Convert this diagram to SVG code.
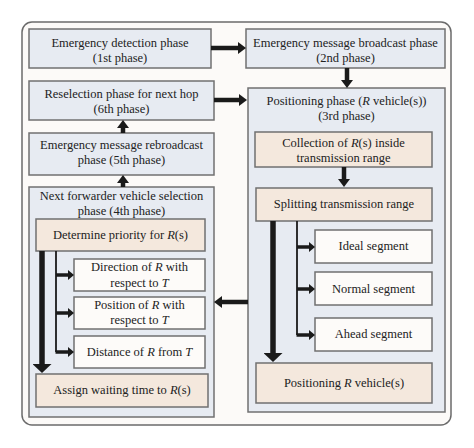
<svg xmlns="http://www.w3.org/2000/svg" width="474" height="448" viewBox="0 0 474 448" font-family="'Liberation Serif', 'DejaVu Serif', serif">
<defs>
<style>
text{font-family:'Liberation Serif','DejaVu Serif',serif;font-size:12.5px;fill:#222;text-anchor:middle}
.i{font-style:italic}
.blue{fill:#e7ebf2;stroke:#707070;stroke-width:1.5}
.peach{fill:#f4e8dd;stroke:#707070;stroke-width:1.5}
.white{fill:#fdfbf9;stroke:#707070;stroke-width:1.5}
.a{stroke:#1a1a1a;stroke-width:4.5;fill:none}
.as{stroke:#1a1a1a;stroke-width:3.5;fill:none}
.at{stroke:#1a1a1a;stroke-width:5.5;fill:none}
.thin{stroke:#1a1a1a;stroke-width:1.8;fill:none}
</style>
<marker id="ah" markerUnits="userSpaceOnUse" viewBox="0 0 8 12" markerWidth="8" markerHeight="12" refX="0" refY="6" orient="auto"><path d="M0,0 L8,6 L0,12 z" fill="#1a1a1a"/></marker>
<marker id="ahs" markerUnits="userSpaceOnUse" viewBox="0 0 6 10" markerWidth="6" markerHeight="10" refX="0" refY="5" orient="auto"><path d="M0,0 L6,5 L0,10 z" fill="#1a1a1a"/></marker>
<marker id="aht" markerUnits="userSpaceOnUse" viewBox="0 0 9 19" markerWidth="9" markerHeight="19" refX="0" refY="9.5" orient="auto"><path d="M0,0 L9,9.5 L0,19 z" fill="#1a1a1a"/></marker>
</defs>
<rect width="474" height="448" fill="#ffffff"/>
<rect x="22" y="22" width="429" height="403" rx="10" fill="#fcfaf8" stroke="#6b6b6b" stroke-width="1.5"/>

<g id="n1"><rect class="blue" x="29" y="29" width="182" height="39"/>
<text x="120" y="46.5">Emergency detection phase</text><text x="120" y="61.5">(1st phase)</text></g>
<g id="n2"><rect class="blue" x="246" y="29" width="199" height="39"/>
<text x="345.5" y="46.5">Emergency message broadcast phase</text><text x="345.5" y="61.5">(2nd phase)</text></g>
<g id="n6"><rect class="blue" x="29" y="81" width="185" height="39"/>
<text x="121.5" y="97.5">Reselection phase for next hop</text><text x="121.5" y="112.5">(6th phase)</text></g>
<g id="n5"><rect class="blue" x="29" y="133" width="185" height="42"/>
<text x="121.5" y="148.5">Emergency message rebroadcast</text><text x="121.5" y="163.5">phase (5th phase)</text></g>
<g id="n4"><rect class="blue" x="29" y="187" width="185" height="230"/>
<text x="121.5" y="200">Next forwarder vehicle selection</text><text x="121.5" y="215">phase (4th phase)</text></g>
<g id="n4a"><rect class="peach" x="36" y="219" width="169" height="32"/>
<text x="120.5" y="239">Determine priority for <tspan class="i">R</tspan>(s)</text></g>
<g id="n4b"><rect class="white" x="74" y="259" width="131" height="32"/>
<text x="139.5" y="271">Direction of <tspan class="i">R</tspan> with</text><text x="139.5" y="286.5">respect to <tspan class="i">T</tspan></text></g>
<g id="n4c"><rect class="white" x="74" y="297" width="131" height="32"/>
<text x="139.5" y="308.5">Position of <tspan class="i">R</tspan> with</text><text x="139.5" y="324">respect to <tspan class="i">T</tspan></text></g>
<g id="n4d"><rect class="white" x="74" y="336" width="131" height="32"/>
<text x="139.5" y="356">Distance of <tspan class="i">R</tspan> from <tspan class="i">T</tspan></text></g>
<g id="n4e"><rect class="peach" x="36" y="374" width="172" height="33"/>
<text x="122" y="394">Assign waiting time to <tspan class="i">R</tspan>(s)</text></g>

<g id="n3"><rect class="blue" x="248" y="88" width="197" height="324"/>
<text x="346.5" y="104.5">Positioning phase (<tspan class="i">R</tspan> vehicle(s))</text><text x="346.5" y="119.5">(3rd phase)</text></g>
<g id="n3a"><rect class="peach" x="255" y="132" width="177" height="35"/>
<text x="343.5" y="147">Collection of <tspan class="i">R</tspan>(s) inside</text><text x="343.5" y="161.5">transmission range</text></g>
<g id="n3b"><rect class="peach" x="256" y="188" width="176" height="33"/>
<text x="344" y="208">Splitting transmission range</text></g>
<g id="n3c"><rect class="white" x="315" y="230" width="117" height="33"/>
<text x="373.5" y="250">Ideal segment</text></g>
<g id="n3d"><rect class="white" x="315" y="272" width="117" height="33"/>
<text x="373.5" y="292.5">Normal segment</text></g>
<g id="n3e"><rect class="white" x="315" y="318" width="117" height="33"/>
<text x="373.5" y="337.5">Ahead segment</text></g>
<g id="n3f"><rect class="peach" x="256" y="363" width="176" height="40"/>
<text x="344" y="387">Positioning <tspan class="i">R</tspan> vehicle(s)</text></g>

<g id="connectors">
<line class="a" x1="211" y1="48" x2="238" y2="48" marker-end="url(#ah)"/>
<line class="a" x1="214" y1="100" x2="239" y2="100" marker-end="url(#ah)"/>
<line class="a" x1="347" y1="68" x2="347" y2="80" marker-end="url(#ah)"/>
<line class="a" x1="123" y1="133" x2="123" y2="128" marker-end="url(#ah)"/>
<line class="a" x1="123" y1="187" x2="123" y2="183" marker-end="url(#ah)"/>
<line class="a" x1="248" y1="302" x2="222" y2="302" marker-end="url(#ah)"/>
<line class="a" x1="344" y1="167" x2="344" y2="179" marker-end="url(#ah)"/>
<line class="at" x1="42" y1="251" x2="42" y2="364" marker-end="url(#aht)"/>
<path class="thin" d="M56,251 V352"/>
<line class="as" x1="56" y1="275" x2="68" y2="275" marker-end="url(#ahs)"/>
<line class="as" x1="56" y1="313" x2="68" y2="313" marker-end="url(#ahs)"/>
<line class="as" x1="55.5" y1="352" x2="68" y2="352" marker-end="url(#ahs)"/>
<line class="at" x1="273" y1="221" x2="273" y2="353" marker-end="url(#aht)"/>
<path class="thin" d="M297,221 V335"/>
<line class="as" x1="297" y1="247" x2="309" y2="247" marker-end="url(#ahs)"/>
<line class="as" x1="297" y1="289" x2="309" y2="289" marker-end="url(#ahs)"/>
<line class="as" x1="296.5" y1="335" x2="309" y2="335" marker-end="url(#ahs)"/>
</g>
</svg>
